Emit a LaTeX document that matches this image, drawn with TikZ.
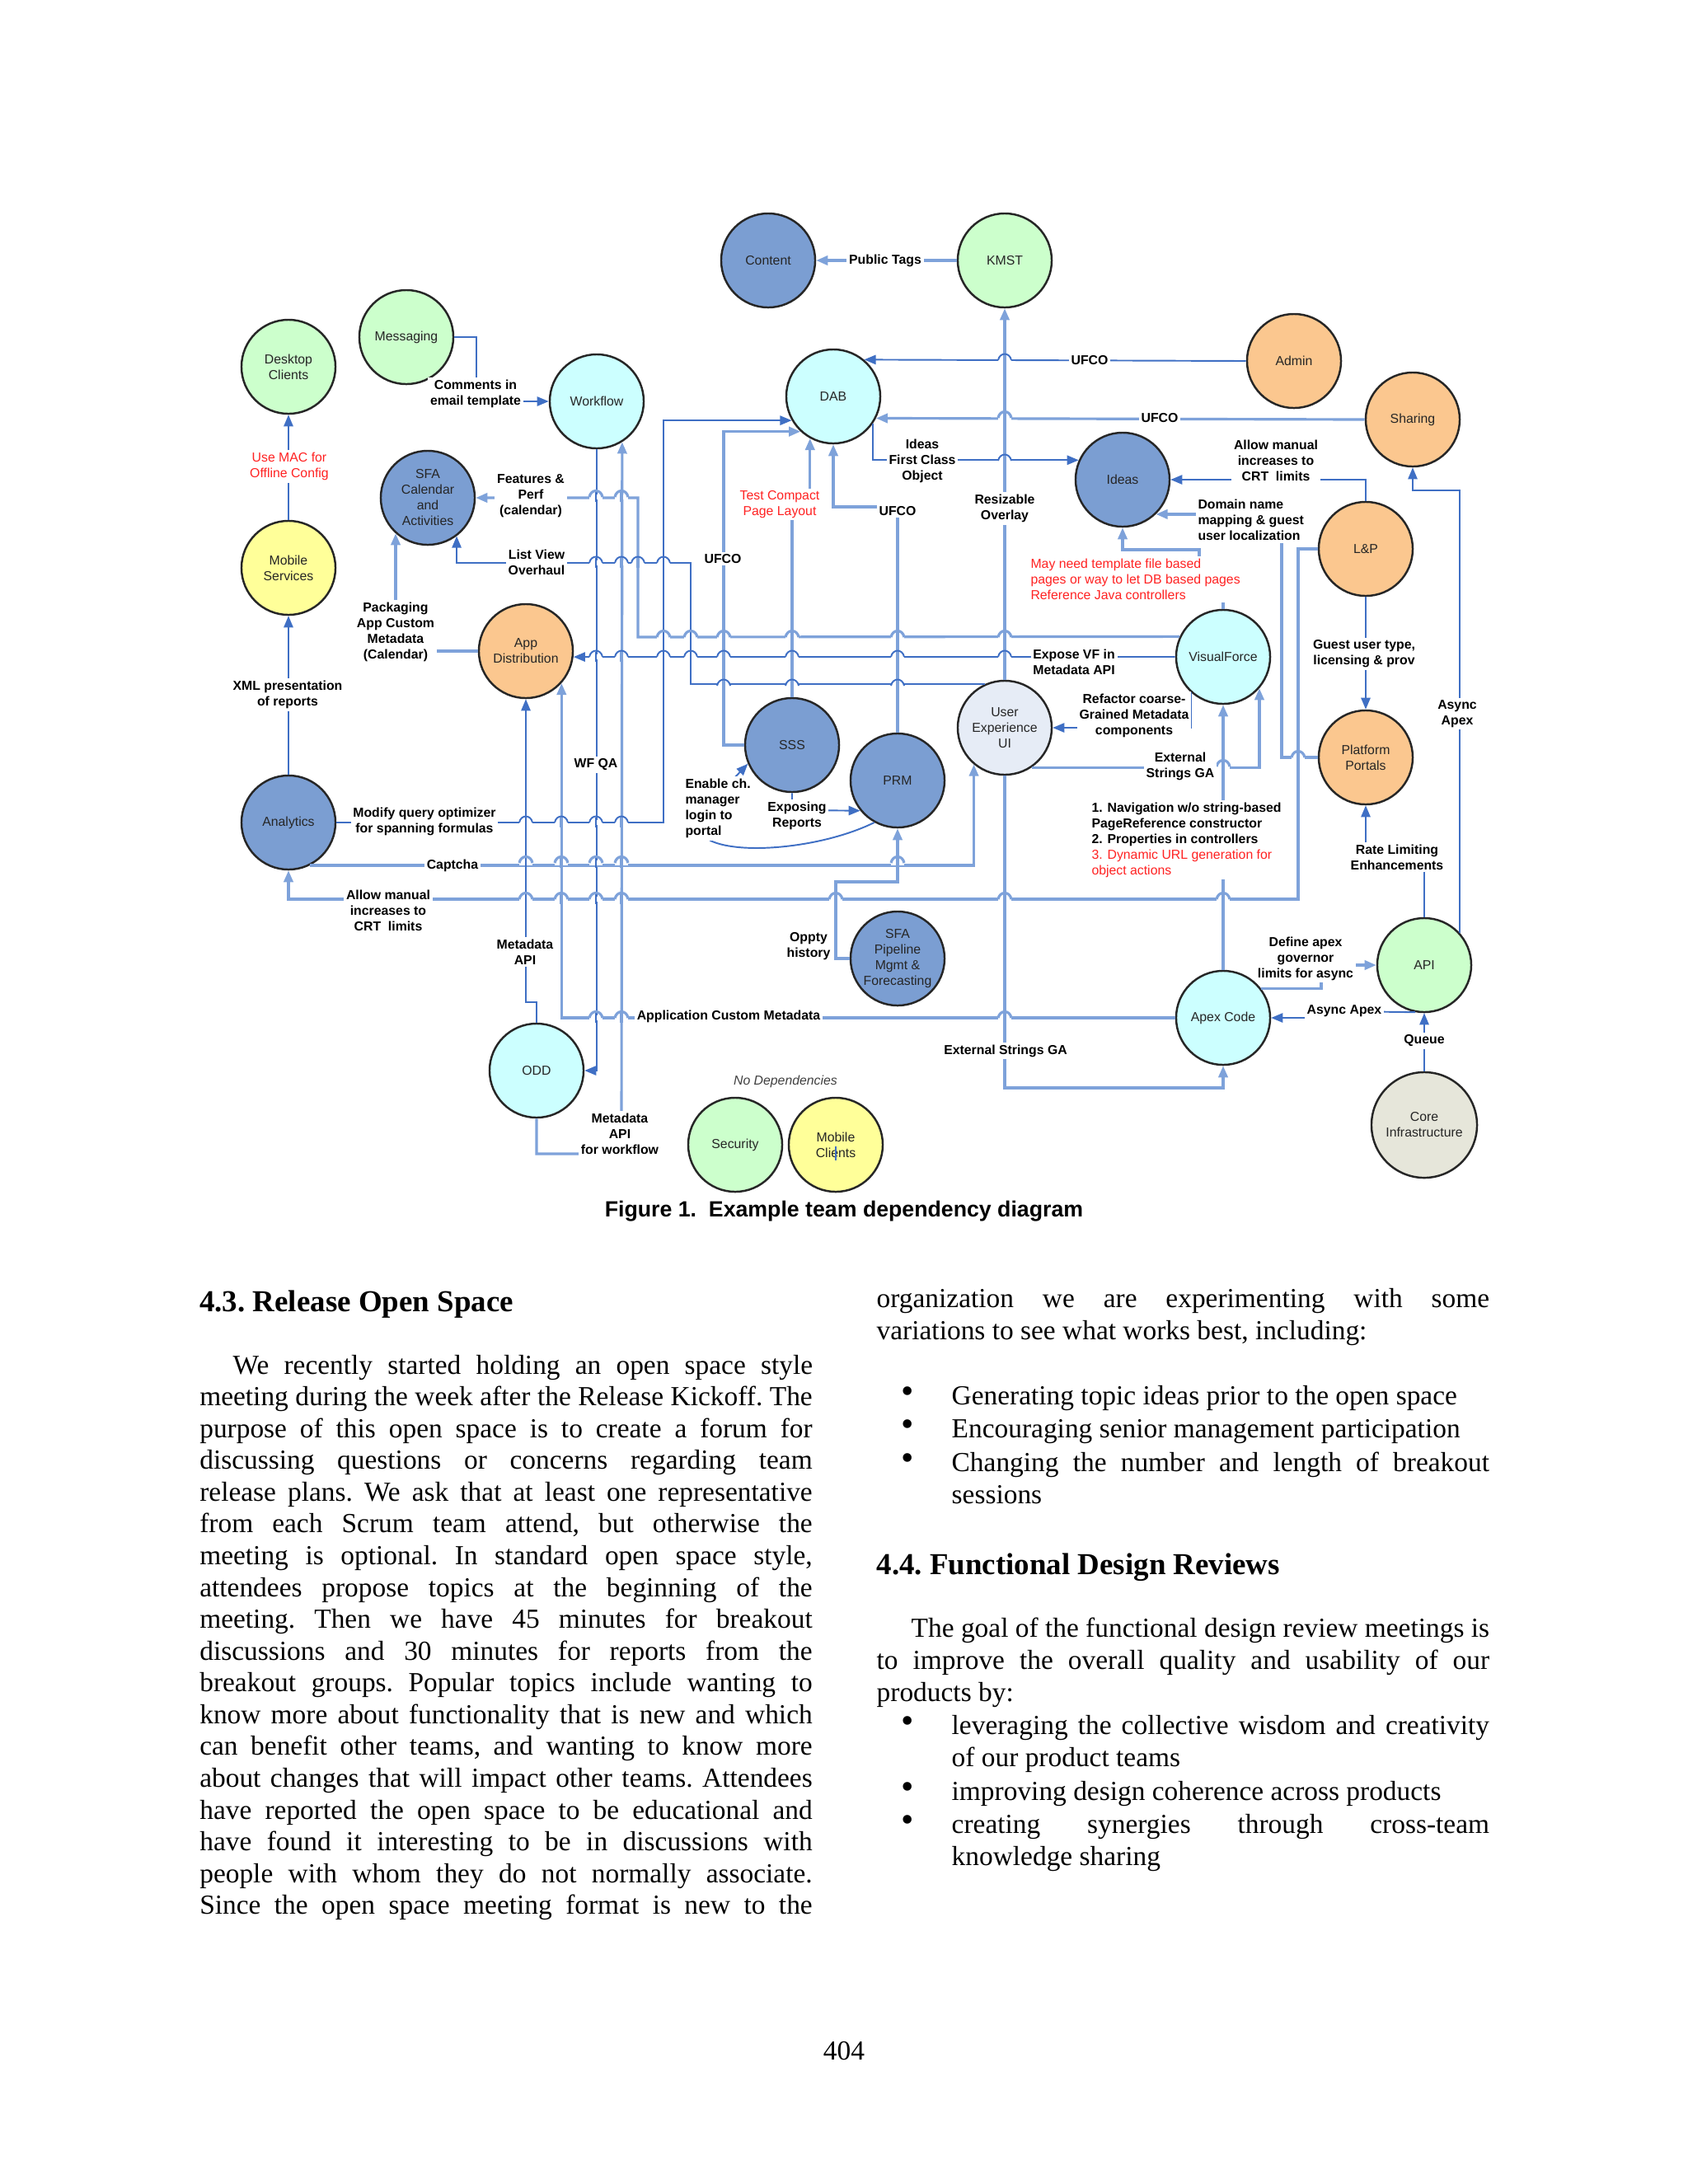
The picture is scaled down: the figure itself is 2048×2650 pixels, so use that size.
\documentclass[tikz,border=0pt]{standalone}
\usepackage{fontspec}
\setmainfont{Liberation Serif}
\newfontfamily\sansf{Liberation Sans}
\usetikzlibrary{arrows.meta}
\definecolor{nblue}{HTML}{7B9ED2}
\definecolor{ngreen}{HTML}{CCFFCC}
\definecolor{ncyan}{HTML}{CCFFFF}
\definecolor{norange}{HTML}{FBC78F}
\definecolor{nyellow}{HTML}{FFFF99}
\definecolor{nux}{HTML}{E6ECF6}
\definecolor{ncore}{HTML}{E6E6DA}
\definecolor{ldark}{HTML}{3F6FC4}
\definecolor{llight}{HTML}{7EA2DA}
\definecolor{redtxt}{HTML}{FF2222}
\newcommand\nodefnt{\sansf\fontsize{4.5pt}{5.4pt}\selectfont}
\newcommand\lblfnt{\sansf\bfseries\fontsize{4.5pt}{5.4pt}\selectfont}
\newcommand\bodyfnt{\fontsize{9.5pt}{11pt}\selectfont\frenchspacing}
\newcommand\jl[2]{\makebox[#1][s]{#2}}
\newcommand\dhop[4]{%
  \fill[white] ({#1-8},{#2-3.4}) rectangle ({#1+8},{#2+3.4});
  \draw[#4] (#1,{#2-6}) -- (#1,{#2+6});
  \draw[#3] ({#1-8},#2) .. controls ({#1-6},{#2-10}) and ({#1+6},{#2-10}) .. ({#1+8},#2);}
\tikzset{
  team/.style={circle, draw=black!85, line width=0.7pt, minimum size=1.14cm, inner sep=0pt, align=center, font=\nodefnt, text=black!85},
  dep/.style={draw=ldark, line width=0.55pt, -{Triangle[length=4pt,width=3.2pt]}},
  depl/.style={draw=llight, line width=0.9pt, -{Triangle[length=4pt,width=3.2pt]}},
  hd/.style={draw=ldark, line width=0.55pt},
  hl/.style={draw=llight, line width=0.9pt},
  lbl/.style={font=\lblfnt, fill=white, inner sep=0.8pt, align=center, text=black},
  body/.style={font=\bodyfnt, inner sep=0pt, anchor=base west},
  bul/.style={font=\fontsize{12.5pt}{12.5pt}\selectfont, inner sep=0pt, anchor=center},
}
\begin{document}
\begin{tikzpicture}[x=0.01cm, y=-0.01cm]
\fill[white] (0,0) rectangle (2048,2650);
\useasboundingbox (0,0) rectangle (2048,2650);

% ---------- teams ----------
\node[team, fill=nblue] (content) at (932,316) {Content};
\node[team, fill=ngreen] (kmst) at (1219,316) {KMST};
\node[team, fill=ncyan] (dab) at (1011,481) {DAB};
\node[team, fill=ngreen] (desktop) at (350,445) {Desktop\\Clients};
\node[team, fill=ngreen] (messaging) at (493,409) {Messaging};
\node[team, fill=ncyan] (workflow) at (724,487) {Workflow};
\node[team, fill=nblue] (sfacal) at (519,604) {SFA\\Calendar\\and\\Activities};
\node[team, fill=nyellow] (mobserv) at (350,689) {Mobile\\Services};
\node[team, fill=nblue] (analytics) at (350,998) {Analytics};
\node[team, fill=norange] (appdist) at (638,790) {App\\Distribution};
\node[team, fill=norange] (admin) at (1570,438) {Admin};
\node[team, fill=norange] (sharing) at (1714,509) {Sharing};
\node[team, fill=nblue] (ideas) at (1362,582) {Ideas};
\node[team, fill=norange] (lp) at (1657,666) {L\&P};
\node[team, fill=ncyan] (vf) at (1484,797) {VisualForce};
\node[team, fill=norange] (pp) at (1657,919) {Platform\\Portals};
\node[team, fill=nux] (ux) at (1219,883) {User\\Experience\\UI};
\node[team, fill=nblue] (sss) at (961,904) {SSS};
\node[team, fill=nblue] (prm) at (1089,947) {PRM};
\node[team, fill=nblue] (sfapipe) at (1089,1163) {SFA\\Pipeline\\Mgmt \&\\Forecasting};
\node[team, fill=ncyan] (odd) at (651,1299) {ODD};
\node[team, fill=ncyan] (apex) at (1484,1235) {Apex Code};
\node[team, fill=ngreen] (api) at (1728,1171) {API};
\node[team, fill=ncore, minimum size=1.28cm] (core) at (1728,1365) {Core\\Infrastructure};
\node[team, fill=ngreen] (security) at (892,1389) {Security};
\node[team, fill=nyellow] (mobcli) at (1014,1389) {Mobile\\Clients};
\draw[draw=ldark, line width=0.6pt] (1014,1391) -- (1014,1408);

% ---------- connectors ----------
\draw[depl] (kmst.west) -- (content.east);
\draw[depl] (ux.north) -- (kmst.south);
\draw[dep] (admin.west) -- (dab.50);
\draw[depl] (sharing.west) -- (dab.-27);
\draw[dep] (dab.-35) |- (ideas.156);
\draw[dep] (analytics.east) -- (805,998) |- (dab.210);
\draw[depl] (sss.west) -- (878,904) |- (dab.227);
\draw[depl] (sss.north) -- (961,612) -| (dab.241);
\draw[depl] (prm.north) -- (1089,615) -| (dab.south);
\draw[dep] (messaging.east) -| (578,487) -- (workflow.west);
\draw[depl] (vf.155) -- (774,773) |- (sfacal.east);
\draw[dep] (vf.west) -- (appdist.-7);
\draw[dep] (ux.114) -| (838,683) -| (sfacal.-53);
\draw[dep] (workflow.south) |- (odd.east);
\draw[depl] (odd.south) |- (754,1400) -- (workflow.-58);
\draw[dep] (odd.north) |- (638,1216) -- (appdist.south);
\draw[depl] (apex.west) -| (appdist.-42);
\draw[depl] (ux.south) -- (1219,1320) -| (apex.south);
\draw[depl] (apex.north) -- (vf.south);
\draw[depl] (ux.-56) -| (vf.-41);
\draw[dep] (vf.228) |- (ux.east);
\draw[depl] (vf.north) -- (1484,700) -| (1455,667) -| (ideas.south);
\draw[depl] (pp.west) -- (1555,919) |- (ideas.-46);
\draw[depl] (lp.west) -- (1575,666) -- (1575,1091) -| (analytics.south);
\draw[depl] (analytics.-63) -| (ux.230);
\draw[depl] (sfapipe.west) -| (1014,1070) -| (prm.south);
\draw[dep] (prm.241) .. controls (1000,1028) and (900,1038) .. (862,1020) -- (887,948) -- (sss.203);
\draw[dep] (sss.south) -- (961,983) -- (prm.219);
\draw[dep] (api.259) -- (1630,1227) -- (1630,1235) -- (apex.east);
\draw[depl] (apex.38) -| (1603,1171) -- (api.west);
\draw[dep] (core.north) -- (api.south);
\draw[dep] (api.north) -- (1728,1040) -| (pp.south);
\draw[dep] (api.42) |- (1714,595) -- (sharing.south);
\draw[dep] (lp.north) |- (ideas.east);
\draw[dep] (lp.south) -- (pp.north);
\draw[dep] (mobserv.north) -- (desktop.south);
\draw[dep] (analytics.north) -- (mobserv.south);
\draw[depl] (appdist.west) -| (sfacal.228);

% ---------- line hops ----------
\dhop{1219}{437}{hd}{hl}
\dhop{1219}{507}{hl}{hl}
\dhop{1219}{559}{hd}{hl}
\dhop{638}{998}{hd}{hd}
\dhop{681}{998}{hd}{hl}
\dhop{723}{998}{hd}{hd}
\dhop{754}{998}{hd}{hl}
\dhop{638}{1047}{hl}{hd}
\dhop{681}{1047}{hl}{hl}
\dhop{723}{1047}{hl}{hd}
\dhop{754}{1047}{hl}{hl}
\dhop{1089}{1047}{hl}{hl}
\dhop{638}{1091}{hl}{hd}
\dhop{681}{1091}{hl}{hl}
\dhop{723}{1091}{hl}{hd}
\dhop{754}{1091}{hl}{hl}
\dhop{1014}{1091}{hl}{hl}
\dhop{1219}{1091}{hl}{hl}
\dhop{1484}{1091}{hl}{hl}
\dhop{723}{1235}{hl}{hd}
\dhop{754}{1235}{hl}{hl}
\dhop{1219}{1235}{hl}{hl}
\dhop{723}{603}{hl}{hd}
\dhop{754}{603}{hl}{hl}
\dhop{805}{773}{hl}{hd}
\dhop{838}{773}{hl}{hd}
\dhop{878}{773}{hl}{hl}
\dhop{961}{773}{hl}{hl}
\dhop{1089}{773}{hl}{hl}
\dhop{1219}{773}{hl}{hl}
\dhop{723}{797}{hd}{hd}
\dhop{754}{797}{hd}{hl}
\dhop{805}{797}{hd}{hd}
\dhop{838}{797}{hd}{hd}
\dhop{878}{797}{hd}{hl}
\dhop{961}{797}{hd}{hl}
\dhop{1089}{797}{hd}{hl}
\dhop{1219}{797}{hd}{hl}
\dhop{723}{683}{hd}{hd}
\dhop{754}{683}{hd}{hl}
\dhop{774}{683}{hd}{hl}
\dhop{805}{683}{hd}{hd}
\dhop{878}{832}{hd}{hl}
\dhop{961}{832}{hd}{hl}
\dhop{1089}{832}{hd}{hl}
\dhop{1575}{919}{hl}{hl}
\dhop{1484}{930}{hl}{hl}

% ---------- connector labels ----------
\node[lbl] (t1) at (1074,316) {Public Tags};
\node[lbl] (t2) at (1219,617) {Resizable\\Overlay};
\node[lbl] (t3) at (1322,437) {UFCO};
\node[lbl] (t4) at (1407,507) {UFCO};
\node[lbl] (t5) at (1119,559) {Ideas\\First Class\\Object};
\node[lbl] (t6) at (515,997) {Modify query optimizer\\for spanning formulas};
\node[lbl] (t7) at (877,678) {UFCO};
\node[lbl, text=redtxt, font=\nodefnt] (t8) at (946,612) {Test Compact\\Page Layout};
\node[lbl] (t9) at (1089,620) {UFCO};
\node[lbl] (t10) at (577,478) {Comments in\\email template};
\node[lbl] (t11) at (644,602) {Features \&\\Perf\\(calendar)};
\node[lbl] (t12) at (1303,803) {Expose VF in\\Metadata API};
\node[lbl] (t13) at (651,682) {List View\\Overhaul};
\node[lbl] (t14) at (723,928) {WF QA};
\node[lbl] (t15) at (752,1376) {Metadata\\API\\for workflow};
\node[lbl] (t16) at (637,1155) {Metadata\\API};
\node[lbl] (t17) at (884,1233) {Application Custom Metadata};
\node[lbl] (t18) at (1220,1275) {External Strings GA};
\node[lbl, align=left, anchor=west] (t19) at (1321,1019) {1. Navigation w/o string-based\\PageReference constructor\\2. Properties in controllers\\\textcolor{redtxt}{\mdseries 3. Dynamic URL generation for}\\\textcolor{redtxt}{\mdseries object actions}};
\node[lbl] (t20) at (1432,930) {External\\Strings GA};
\node[lbl] (t21) at (1376,868) {Refactor coarse-\\Grained Metadata\\components};
\node[lbl, align=left, anchor=west, text=redtxt, font=\nodefnt] (t22) at (1247,703) {May need template file based\\pages or way to let DB based pages\\Reference Java controllers};
\node[lbl, align=left, anchor=west] (t23) at (1450,631) {Domain name\\mapping \& guest\\user localization};
\node[lbl] (t24) at (471,1105) {Allow manual\\increases to\\CRT~~limits};
\node[lbl] (t25) at (549,1050) {Captcha};
\node[lbl] (t26) at (981,1148) {Oppty\\history};
\node[lbl, align=left, anchor=west] (t27) at (828,981) {Enable ch.\\manager\\login to\\portal};
\node[lbl] (t28) at (967,990) {Exposing\\Reports};
\node[lbl] (t29) at (1631,1227) {Async Apex};
\node[lbl] (t30) at (1584,1163) {Define apex\\governor\\limits for async};
\node[lbl] (t31) at (1728,1263) {Queue};
\node[lbl] (t32) at (1695,1040) {Rate Limiting\\Enhancements};
\node[lbl] (t33) at (1768,866) {Async\\Apex};
\node[lbl] (t34) at (1548,559) {Allow manual\\increases to\\CRT~~limits};
\node[lbl] (t35) at (1655,793) {Guest user type,\\licensing \& prov};
\node[lbl, text=redtxt, font=\nodefnt] (t36) at (351,566) {Use MAC for\\Offline Config};
\node[lbl] (t37) at (349,843) {XML presentation\\of reports};
\node[lbl] (t38) at (480,767) {Packaging\\App Custom\\Metadata\\(Calendar)};
\node[font=\sansf\itshape\fontsize{4.5pt}{5.4pt}\selectfont, text=black!75] (t39) at (953,1312) {No Dependencies};

% ---------- caption ----------
\node (cap) at (1024,1470) {\resizebox{5.8cm}{!}{\sansf\bfseries\fontsize{7.5pt}{9pt}\selectfont Figure 1.\ \ Example team dependency diagram}};

% ---------- left column ----------
\node[body] (h1) at (241.6,1591) {\fontsize{10.5pt}{12pt}\selectfont\bfseries 4.3. Release Open Space};
\node[body] (p1) at (282,1667) {\jl{7.03cm}{We recently started holding an open space style}};
\node[body] (p2) at (241.6,1705.6) {\jl{7.43cm}{meeting during the week after the Release Kickoff. The}};
\node[body] (p3) at (241.6,1744.1) {\jl{7.43cm}{purpose of this open space is to create a forum for}};
\node[body] (p4) at (241.6,1782.7) {\jl{7.43cm}{discussing questions or concerns regarding team}};
\node[body] (p5) at (241.6,1821.3) {\jl{7.43cm}{release plans. We ask that at least one representative}};
\node[body] (p6) at (241.6,1859.9) {\jl{7.43cm}{from each Scrum team attend, but otherwise the}};
\node[body] (p7) at (241.6,1898.4) {\jl{7.43cm}{meeting is optional. In standard open space style,}};
\node[body] (p8) at (241.6,1937) {\jl{7.43cm}{attendees propose topics at the beginning of the}};
\node[body] (p9) at (241.6,1975.6) {\jl{7.43cm}{meeting. Then we have 45 minutes for breakout}};
\node[body] (p10) at (241.6,2014.1) {\jl{7.43cm}{discussions and 30 minutes for reports from the}};
\node[body] (p11) at (241.6,2052.7) {\jl{7.43cm}{breakout groups. Popular topics include wanting to}};
\node[body] (p12) at (241.6,2091.3) {\jl{7.43cm}{know more about functionality that is new and which}};
\node[body] (p13) at (241.6,2129.8) {\jl{7.43cm}{can benefit other teams, and wanting to know more}};
\node[body] (p14) at (241.6,2168.4) {\jl{7.43cm}{about changes that will impact other teams. Attendees}};
\node[body] (p15) at (241.6,2207) {\jl{7.43cm}{have reported the open space to be educational and}};
\node[body] (p16) at (241.6,2245.6) {\jl{7.43cm}{have found it interesting to be in discussions with}};
\node[body] (p17) at (241.6,2284.1) {\jl{7.43cm}{people with whom they do not normally associate.}};
\node[body] (p18) at (241.6,2322.7) {\jl{7.43cm}{Since the open space meeting format is new to the}};

% ---------- right column ----------
\node[body] (r1) at (1063,1586) {\jl{7.43cm}{organization we are experimenting with some}};
\node[body] (r2) at (1063,1625) {variations to see what works best, including:};
\node[bul] (b1) at (1101,1693) {\textbullet};
\node[body] (r3) at (1154,1704) {Generating topic ideas prior to the open space};
\node[bul] (b2) at (1101,1733) {\textbullet};
\node[body] (r4) at (1154,1744) {Encouraging senior management participation};
\node[bul] (b3) at (1101,1774) {\textbullet};
\node[body] (r5) at (1154,1785) {\jl{6.52cm}{Changing the number and length of breakout}};
\node[body] (r6) at (1154,1824) {sessions};
\node[body] (h2) at (1063,1910) {\fontsize{10.5pt}{12pt}\selectfont\bfseries 4.4. Functional Design Reviews};
\node[body] (r7) at (1105,1986) {\jl{7.01cm}{The goal of the functional design review meetings is}};
\node[body] (r8) at (1063,2025) {\jl{7.43cm}{to improve the overall quality and usability of our}};
\node[body] (r9) at (1063,2064) {products by:};
\node[bul] (b4) at (1101,2093) {\textbullet};
\node[body] (r10) at (1154,2104) {\jl{6.52cm}{leveraging the collective wisdom and creativity}};
\node[body] (r11) at (1154,2143) {of our product teams};
\node[bul] (b5) at (1101,2173) {\textbullet};
\node[body] (r12) at (1154,2184) {improving design coherence across products};
\node[bul] (b6) at (1101,2213) {\textbullet};
\node[body] (r13) at (1154,2224) {\jl{6.52cm}{creating synergies through cross-team}};
\node[body] (r14) at (1154,2263) {knowledge sharing};

\node[font=\bodyfnt] (pg) at (1024,2489) {404};
\end{tikzpicture}
\end{document}
